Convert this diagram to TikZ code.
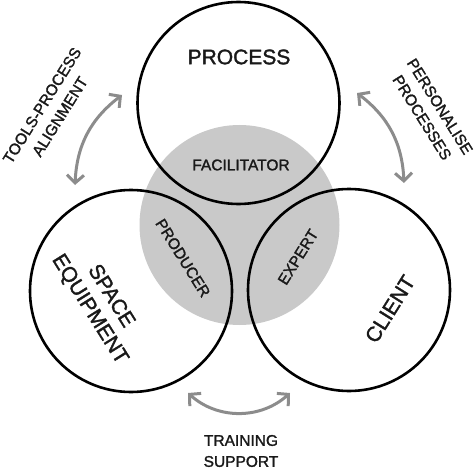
\documentclass[tikz,border=0pt]{standalone}
\usepackage{fontspec}
\setmainfont{Liberation Sans}
\newfontfamily\medfont{Liberation Sans}[FakeBold=1.6]
\usetikzlibrary{arrows.meta}
\definecolor{hubgray}{RGB}{201,201,201}
\definecolor{arrowgray}{RGB}{140,140,140}
\definecolor{inkblack}{RGB}{25,25,25}
\begin{document}
\begin{tikzpicture}[x=1pt,y=-1pt,
  ring/.style={circle,draw=black,line width=2.6pt,inner sep=0pt,minimum size=202pt},
  swaparrow/.style={draw=arrowgray,line width=3pt,
    {Straight Barb[length=8pt,width=17pt]}-{Straight Barb[length=8pt,width=17pt]}},
  bigtext/.style={font=\medfont\fontsize{21}{25}\selectfont,text=inkblack,align=center,inner sep=0pt},
  smalltext/.style={font=\medfont\fontsize{15.5}{21}\selectfont,text=inkblack,align=center,inner sep=0pt},
]
\useasboundingbox (0,0) rectangle (474,468);
\fill[hubgray] (239.5,225) circle[radius=100];
\node[ring] (process) at (238.5,103) {};
\node[ring] (space) at (131,291) {};
\node[ring] (client) at (349,290) {};

\node[bigtext] (lprocess) at (239,57) {PROCESS};
\node[smalltext] (lfac) at (241,165) {FACILITATOR};
\node[smalltext,rotate=-58] (lprod) at (183,258) {PRODUCER};
\node[smalltext,rotate=58] (lexp) at (298,257) {EXPERT};
\node[bigtext,rotate=-58] (lspace) at (100,303) {SPACE\\EQUIPMENT};
\node[bigtext,rotate=58] (lclient) at (390,309) {CLIENT};
\node[smalltext,rotate=58] (ltools) at (51,111) {TOOLS-PROCESS\\ALIGNMENT};
\node[smalltext,rotate=-58] (lpers) at (431,112) {PERSONALISE\\PROCESSES};
\node[smalltext] (ltrain) at (241,451) {TRAINING\\SUPPORT};

\coordinate (a1) at (122,95); \coordinate (a2) at (75,185);
\coordinate (b1) at (357,93); \coordinate (b2) at (404,183);
\coordinate (c1) at (188,393); \coordinate (c2) at (290,393);
\draw[swaparrow] (a1) to[bend right=25] (a2);
\draw[swaparrow] (b1) to[bend left=25] (b2);
\draw[swaparrow] (c1) to[bend right=42] (c2);
\end{tikzpicture}
\end{document}
